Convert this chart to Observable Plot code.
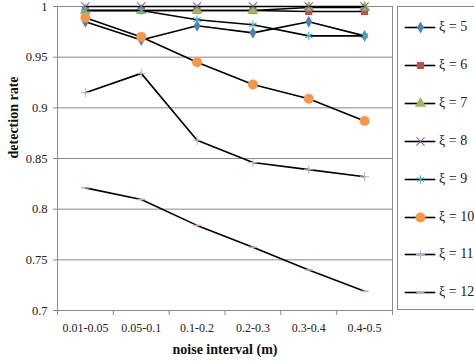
<!DOCTYPE html>
<html>
<head>
<meta charset="utf-8">
<script src="https://cdn.jsdelivr.net/npm/d3@7"></script>
<script src="https://cdn.jsdelivr.net/npm/@observablehq/plot@0.6"></script>
<style>
  html, body { margin: 0; padding: 0; background: #fff; }
  #wrap { position: relative; width: 474px; height: 361px; font-family: "Liberation Serif", "DejaVu Serif", serif; }
  #legend { position: absolute; left: 397px; top: 6px; width: 80px; height: 304px; border: 1px solid #888; box-sizing: border-box; background: #fff; }
  .item { position: absolute; left: 5px; height: 14px; display: flex; align-items: center; font-size: 14px; color: #222; white-space: nowrap; }
</style>
</head>
<body>
<div id="wrap"><div id="chart"></div><div id="legend"></div></div>
<script>
const categories = ["0.01-0.05", "0.05-0.1", "0.1-0.2", "0.2-0.3", "0.3-0.4", "0.4-0.5"];
const seriesNames = ["ξ = 5", "ξ = 6", "ξ = 7", "ξ = 8", "ξ = 9", "ξ = 10", "ξ = 11", "ξ = 12"];
const xi5  = [0.985, 0.967, 0.981, 0.974, 0.985, 0.971];
const xi6  = [0.996, 0.996, 0.996, 0.996, 0.995, 0.995];
const xi7  = [0.996, 0.996, 0.996, 0.996, 0.999, 0.999];
const xi8  = [1.000, 1.000, 1.000, 1.000, 1.000, 1.000];
const xi9  = [0.996, 0.996, 0.987, 0.982, 0.971, 0.971];
const xi10 = [0.989, 0.970, 0.945, 0.923, 0.909, 0.887];
const xi11 = [0.915, 0.934, 0.868, 0.846, 0.839, 0.832];
const xi12 = [0.821, 0.8095, 0.784, 0.7625, 0.740, 0.719];
const yTicks = [0.7, 0.75, 0.8, 0.85, 0.9, 0.95, 1];

const allSeries = [xi5, xi6, xi7, xi8, xi9, xi10, xi11, xi12];
const dash = { draw(ctx, size) { const w = Math.sqrt(size) * 0.9; ctx.moveTo(-w, 0); ctx.lineTo(w, 0); ctx.moveTo(w, 0); ctx.closePath(); } };
const styles = [
  { symbol: "diamond", fill: "#4F81BD", stroke: "none", r: 3.6 },
  { symbol: "square", fill: "#C0504D", stroke: "none", r: 4 },
  { symbol: "triangle", fill: "#9BBB59", stroke: "none", r: 4.2 },
  { symbol: "times", fill: "none", stroke: "#8064A2", r: 3.8, sw: 1.1 },
  { symbol: "asterisk", fill: "none", stroke: "#4BACC6", r: 4, sw: 1.1 },
  { symbol: "circle", fill: "#F79646", stroke: "none", r: 5 },
  { symbol: "plus", fill: "none", stroke: "#A7B9DA", r: 3, sw: 1 },
  { symbol: dash, fill: "none", stroke: "#E6A0A0", r: 2.5, sw: 1.5 }
];

const data = [];
allSeries.forEach((vals, s) => vals.forEach((v, i) => data.push({ s, name: seriesNames[s], x: i + 0.5, y: v })));

const marks = [
  Plot.ruleY(yTicks, { stroke: "#8a8a8a", strokeWidth: 1 }),
  Plot.frame({ stroke: "#8a8a8a" }),
  Plot.axisY({ ticks: yTicks, tickFormat: d => String(d), tickSize: 4, tickPadding: 6, fontSize: 12.5, label: null, stroke: "#8a8a8a" }),
  Plot.axisX({ ticks: d3.range(0, 7), tickFormat: () => "", tickSize: 5, label: null, stroke: "#8a8a8a" }),
  Plot.axisX({ ticks: categories.map((c, i) => i + 0.5), tickFormat: d => categories[Math.floor(d)], tickSize: 0, tickPadding: 13, fontSize: 12, label: null }),
  Plot.text(["detection rate"], { frameAnchor: "left", dx: -44, rotate: -90, fontSize: 14, fontWeight: "bold", fill: "#111" }),
  Plot.text(["noise interval (m)"], { frameAnchor: "bottom", dy: 43, fontSize: 14, fontWeight: "bold", fill: "#111" })
];
allSeries.forEach((vals, s) => {
  const d = data.filter(p => p.s === s);
  const st = styles[s];
  marks.push(Plot.line(d, { x: "x", y: "y", stroke: "#000", strokeWidth: 1.6 }));
  marks.push(Plot.dot(d, { x: "x", y: "y", symbol: () => st.symbol, r: st.r, fill: st.fill, stroke: st.stroke, strokeWidth: st.sw || 1 }));
});

const chart = Plot.plot({
  width: 474, height: 361,
  marginLeft: 57, marginRight: 82, marginTop: 6, marginBottom: 51,
  style: { fontFamily: "'Liberation Serif', 'DejaVu Serif', serif", color: "#222", background: "#fff" },
  x: { type: "linear", domain: [0, 6] },
  y: { domain: [0.7, 1] },
  symbol: { type: "identity" },
  marks
});
document.getElementById("chart").appendChild(chart);

// legend
const legend = document.getElementById("legend");
seriesNames.forEach((name, s) => {
  const st = styles[s];
  const item = document.createElement("div");
  item.className = "item";
  item.style.top = (13 + s * 37.9) + "px";
  const sw = Plot.plot({
    width: 34, height: 14, margin: 0,
    x: { domain: [0, 1], axis: null }, y: { domain: [0, 1], axis: null },
    symbol: { type: "identity" },
    marks: [
      Plot.ruleY([0.5], { x1: 0.05, x2: 0.95, stroke: "#000", strokeWidth: 1.6 }),
      Plot.dot([{ x: 0.5, y: 0.5 }], { x: "x", y: "y", symbol: () => st.symbol, r: st.r, fill: st.fill, stroke: st.stroke, strokeWidth: st.sw || 1 })
    ]
  });
  sw.style.display = "block";
  item.appendChild(sw);
  const t = document.createElement("span");
  t.textContent = name;
  t.style.marginLeft = "2px";
  item.appendChild(t);
  legend.appendChild(item);
});
</script>
</body>
</html>
